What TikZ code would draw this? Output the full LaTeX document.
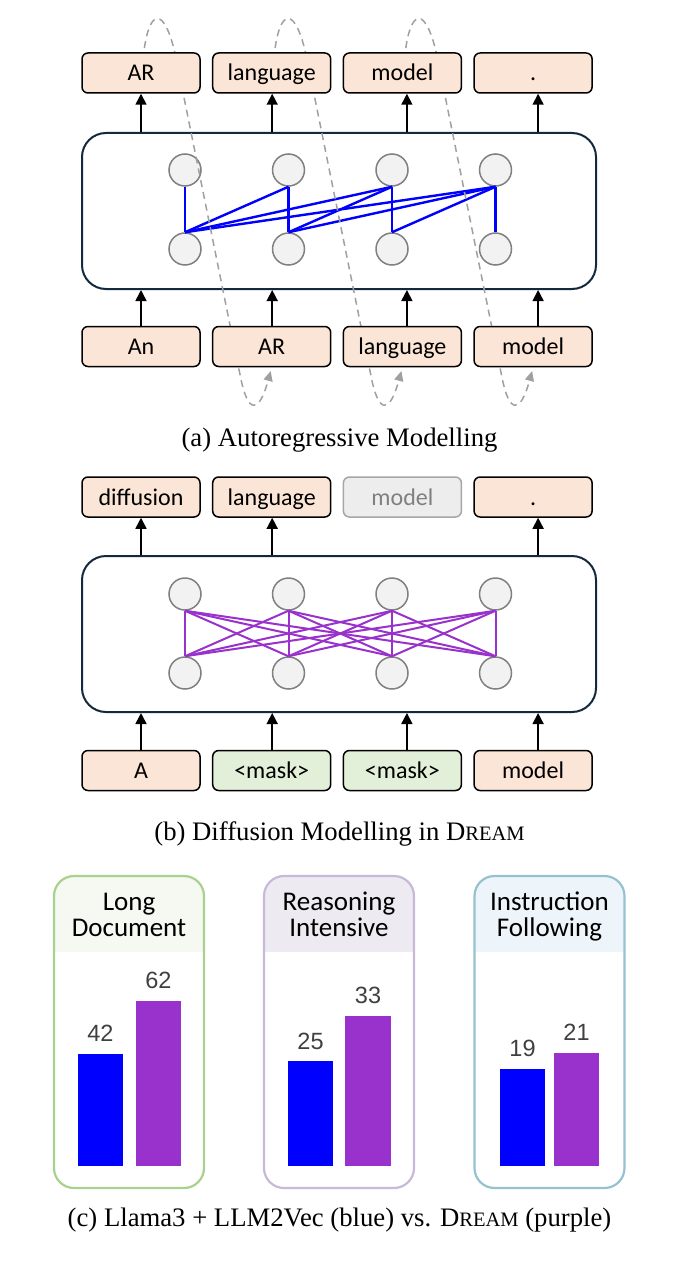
\documentclass[tikz,border=0pt]{standalone}
\usepackage{fontspec}
\setmainfont{Liberation Serif}
\newfontfamily\calfont{Carlito}
\newfontfamily\arialfont{Liberation Sans}
\usetikzlibrary{arrows.meta,calc}
\pgfdeclarelayer{bg}
\pgfdeclarelayer{mid}
\pgfsetlayers{bg,mid,main}
\definecolor{tok}{HTML}{FBE5D6}
\definecolor{maskc}{HTML}{E2F0D9}
\definecolor{grayfill}{HTML}{EDEDED}
\definecolor{grayline}{HTML}{A6A6A6}
\definecolor{graytext}{HTML}{808080}
\definecolor{corec}{HTML}{13293D}
\definecolor{circf}{HTML}{F2F2F2}
\definecolor{circd}{HTML}{808080}
\definecolor{bblue}{HTML}{0000FF}
\definecolor{bpurp}{HTML}{9932CC}
\definecolor{loopc}{HTML}{A0A0A0}
\definecolor{numc}{HTML}{404040}
\definecolor{pad}{HTML}{A9D18E}
\definecolor{pah}{HTML}{F6F8F2}
\definecolor{pbd}{HTML}{C8B9D8}
\definecolor{pbh}{HTML}{EEEAF1}
\definecolor{pcd}{HTML}{96C1CE}
\definecolor{pch}{HTML}{EDF5FB}
\newcommand{\dreamsc}{D{\fontsize{20.5}{24}\selectfont REAM}}
\tikzset{
  tokbox/.style={draw=black, line width=1.5pt, rounded corners=6pt, fill=tok,
    minimum width=118pt, minimum height=40pt, inner sep=0pt,
    text height=20pt, text depth=4pt, font=\calfont\fontsize{24}{28}\selectfont},
  maskbox/.style={tokbox, fill=maskc},
  graybox/.style={tokbox, fill=grayfill, draw=grayline, text=graytext},
  corebox/.style={draw=corec, line width=2pt, rounded corners=24pt, fill=white,
    minimum width=514pt, minimum height=156pt, inner sep=0pt},
  circ/.style={circle, draw=circd, fill=circf, line width=1.5pt, minimum size=32pt, inner sep=0pt},
  bline/.style={draw=bblue, line width=2.4pt},
  pline/.style={draw=bpurp, line width=2pt},
  arr/.style={draw=black, line width=1.6pt, -{Triangle[length=11pt,width=11pt]}},
  loopline/.style={draw=loopc, line width=1.5pt, dash pattern=on 7pt off 5pt,
    -{Triangle[length=10pt,width=9pt]}},
  captext/.style={font=\fontsize{26.7}{30}\selectfont, inner sep=0pt, anchor=base},
  panel/.style={rounded corners=20pt, line width=2.2pt, minimum width=150pt,
    minimum height=312pt, inner sep=0pt, fill=white},
  hdr/.style={font=\calfont\fontsize{27}{26}\selectfont, inner sep=0pt, anchor=base},
  num/.style={font=\arialfont\fontsize{23.5}{26}\selectfont, text=numc, inner sep=0pt, anchor=base}
}
\begin{document}
\begin{tikzpicture}[x=1pt,y=-1pt]
\useasboundingbox (0,0) rectangle (681,1268);
% ---------------- (a) ----------------
\begin{pgfonlayer}{bg}
\node[corebox] (ca) at (339,211) {};
\foreach \i in {1,...,4} {
  \node[circ] (cat\i) at ({185+103.5*(\i-1)},170) {};
  \node[circ] (cab\i) at ({185+103.5*(\i-1)},249) {};
}
\foreach \i in {1,...,4} {
  \foreach \j in {1,...,\i} {
    \draw[bline] (cat\i.south) -- (cab\j.north);
  }
}
\end{pgfonlayer}
\foreach \i/\t in {1/AR,2/language,3/model,4/.} {
  \node[tokbox] (at\i) at ({141+130.7*(\i-1)},73) {\t};
}
\foreach \i/\t in {1/An,2/AR,3/language,4/model} {
  \node[tokbox] (ab\i) at ({141+130.7*(\i-1)},346.5) {\t};
}
\foreach \i/\s in {1/0,2/0.5,3/4.5,4/5} {
  \draw[arr] ([xshift=\s pt]at\i.south |- ca.north) -- ([xshift=\s pt]at\i.south);
  \draw[arr] ([xshift=\s pt]ab\i.north) -- ([xshift=\s pt]ab\i.north |- ca.south);
}
\begin{pgfonlayer}{mid}
\foreach \i/\j in {1/2,2/3,3/4} {
  \draw[loopline] ($(at\i)+(2,-13)$) .. controls ($(at\i)+(7,-68)$) and ($(at\i)+(24,-68)$) .. ($(at\i)+(35,-15)$)
    -- ($(ab\j)+(-31,31.5)$) .. controls ($(ab\j)+(-24,66.5)$) and ($(ab\j)+(-13,68.5)$) .. ($(ab\j)+(-1,24.5)$);
}
\end{pgfonlayer}
\node[captext] (capa) at (339.5,446) {(a) Autoregressive Modelling};
% ---------------- (b) ----------------
\begin{pgfonlayer}{bg}
\node[corebox] (cb) at (339,634) {};
\foreach \i in {1,...,4} {
  \node[circ] (cbt\i) at ({185+103.5*(\i-1)},594) {};
  \node[circ] (cbb\i) at ({185+103.5*(\i-1)},673) {};
}
\foreach \i in {1,...,4} {
  \foreach \j in {1,...,4} {
    \draw[pline] (cbt\i.south) -- (cbb\j.north);
  }
}
\end{pgfonlayer}
\node[tokbox] (bt1) at (141,497) {diffusion};
\node[tokbox] (bt2) at (271.7,497) {language};
\node[graybox] (bt3) at (402.4,497) {model};
\node[tokbox] (bt4) at (533.1,497) {.};
\node[tokbox] (bb1) at (141,770.5) {A};
\node[maskbox] (bb2) at (271.7,770.5) {<mask>};
\node[maskbox] (bb3) at (402.4,770.5) {<mask>};
\node[tokbox] (bb4) at (533.1,770.5) {model};
\foreach \i/\s in {1/0,2/0.5,4/5} {
  \draw[arr] ([xshift=\s pt]bt\i.south |- cb.north) -- ([xshift=\s pt]bt\i.south);
}
\foreach \i/\s in {1/0,2/0.5,3/4.5,4/5} {
  \draw[arr] ([xshift=\s pt]bb\i.north) -- ([xshift=\s pt]bb\i.north |- cb.south);
}
\node[captext] (capb) at (339.5,840) {(b) Diffusion Modelling in \dreamsc};
% ---------------- (c) ----------------
\node[panel, draw=pad, path picture={\fill[pah, sharp corners] (path picture bounding box.north west) rectangle ([yshift=-76pt]path picture bounding box.north east);}] (p1) at (129,1032) {};
\node[panel, draw=pbd, path picture={\fill[pbh, sharp corners] (path picture bounding box.north west) rectangle ([yshift=-76pt]path picture bounding box.north east);}] (p2) at (339,1032) {};
\node[panel, draw=pcd, path picture={\fill[pch, sharp corners] (path picture bounding box.north west) rectangle ([yshift=-76pt]path picture bounding box.north east);}] (p3) at (549.5,1032) {};
\node[hdr] (p1a) at (129,910) {Long};
\node[hdr] (p1b) at (129,936) {Document};
\node[hdr] (p2a) at (339,910) {Reasoning};
\node[hdr] (p2b) at (339,936) {Intensive};
\node[hdr] (p3a) at (549.5,910) {Instruction};
\node[hdr] (p3b) at (549.5,936) {Following};
% bars
\fill[bblue] (78,1054) rectangle (123,1166);
\fill[bpurp] (136,1001) rectangle (181,1166);
\fill[bblue] (288,1061) rectangle (333,1166);
\fill[bpurp] (345,1016) rectangle (391,1166);
\fill[bblue] (500,1069) rectangle (545,1166);
\fill[bpurp] (554,1053) rectangle (599,1166);
\node[num] (n1) at (100.5,1041) {42};
\node[num] (n2) at (158.5,988) {62};
\node[num] (n3) at (310.5,1049) {25};
\node[num] (n4) at (368,1003) {33};
\node[num] (n5) at (522.5,1056) {19};
\node[num] (n6) at (576.5,1040) {21};
\node[captext] (capc) at (339.5,1226) {(c) Llama3 + LLM2Vec (blue) vs. \dreamsc{} (purple)};
\end{tikzpicture}
\end{document}
